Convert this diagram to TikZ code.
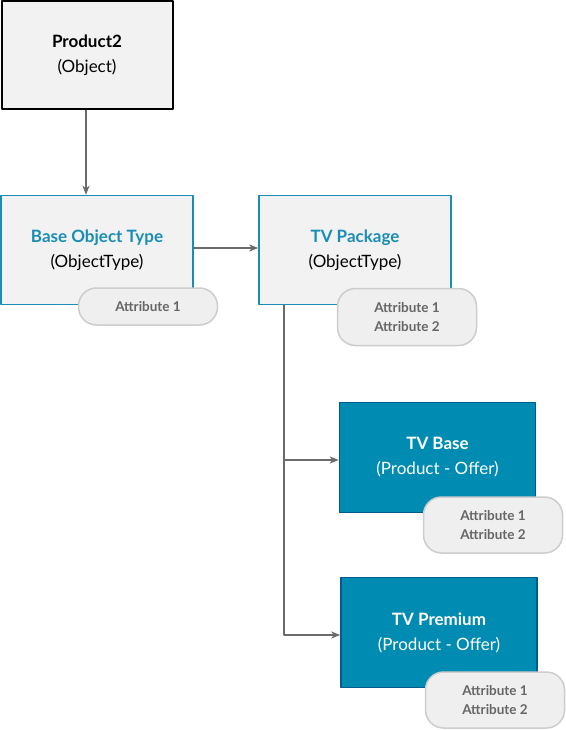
\documentclass[tikz,border=0pt]{standalone}
\usepackage{fontspec}
\setmainfont{Lato}
\usetikzlibrary{arrows.meta}
\definecolor{boxgray}{HTML}{F2F2F2}
\definecolor{teal}{HTML}{1A8DB5}
\definecolor{offerfill}{HTML}{008BB2}
\definecolor{offerline}{HTML}{005A8C}
\definecolor{pillfill}{HTML}{EFEFEF}
\definecolor{pillline}{HTML}{CDCDCD}
\definecolor{pilltext}{HTML}{666666}
\definecolor{linkgray}{HTML}{6B6B6B}
\begin{document}
\begin{tikzpicture}[x=1pt, y=-1pt, line join=round,
    font=\fontsize{17}{25}\selectfont,
    objbox/.style={draw=black, line width=2pt, fill=boxgray, minimum width=171pt, minimum height=108pt, align=center, inner sep=0pt},
    typebox/.style={draw=teal, line width=1.5pt, fill=boxgray, minimum width=192pt, minimum height=109pt, align=center, inner sep=0pt},
    offerbox/.style={draw=offerline, line width=1.5pt, fill=offerfill, text=white, minimum width=196pt, minimum height=110pt, align=center, inner sep=0pt},
    pill/.style={draw=pillline, line width=1.5pt, fill=pillfill, text=pilltext, rounded corners=18pt, minimum width=139pt, align=center, inner sep=0pt, font=\fontsize{13.5}{19}\selectfont\bfseries},
    link/.style={draw=linkgray, line width=1.8pt, -{Stealth[length=9pt, width=7pt, inset=2.5pt]}}]
  \useasboundingbox (0,0) rectangle (565,730);
  % boxes
  \node[objbox] (prod) at (87,55) {\textbf{Product2}\\(Object)};
  \node[typebox] (bot) at (97,250) {\textcolor{teal}{\textbf{Base Object Type}}\\(ObjectType)};
  \node[typebox] (pkg) at (355,250) {\textcolor{teal}{\textbf{TV Package}}\\(ObjectType)};
  \node[offerbox] (tvbase) at (437.5,457.5) {\textbf{TV Base}\\(Product - Offer)};
  \node[offerbox] (tvprem) at (439,632.5) {\textbf{TV Premium}\\(Product - Offer)};
  % attributes
  \node[pill, minimum height=37pt] (botattr) at (148,306.5) {Attribute 1};
  \node[pill, minimum height=57pt] (pkgattr) at (407,317) {Attribute 1\\Attribute 2};
  \node[pill, minimum height=56pt] (baseattr) at (493,525) {Attribute 1\\Attribute 2};
  \node[pill, minimum height=56pt] (premattr) at (495,700) {Attribute 1\\Attribute 2};
  % links
  \coordinate (trunk) at (284,305);
  \draw[link] (prod.south -| 86,0) -- (bot.north -| 86,0);
  \draw[link] (bot.east |- 0,248) -- (pkg.west |- 0,248);
  \draw[link] (trunk) |- (tvbase.west |- 0,460);
  \draw[link] (trunk) |- (tvprem.west |- 0,635);
\end{tikzpicture}
\end{document}
